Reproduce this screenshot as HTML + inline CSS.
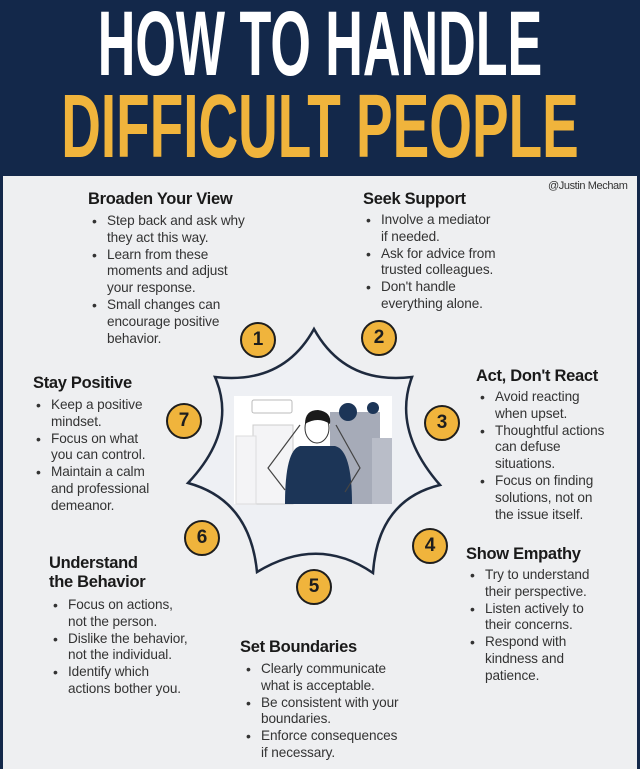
<!DOCTYPE html>
<html><head><meta charset="utf-8"><style>
*{margin:0;padding:0;box-sizing:border-box}
body{width:640px;height:769px;background:#13284a;position:relative;overflow:hidden;font-family:"Liberation Sans",sans-serif;color:#222}
.panel{position:absolute;left:3px;top:176px;width:634px;height:593px;background:#eeeff1}
.t{position:absolute;left:320px;font-weight:bold;white-space:nowrap;transform-origin:center top}
.h{position:absolute;font-weight:bold;font-size:16.5px;color:#1a1a1a;line-height:19px;white-space:nowrap;letter-spacing:-0.3px}
ul{position:absolute;list-style:none;font-size:13.6px;line-height:16.8px;color:#333;letter-spacing:-0.1px}
li{position:relative;padding-left:15px}
li:before{content:"•";position:absolute;left:0;top:0;font-size:14px}
.c{position:absolute;width:36px;height:36px;border-radius:50%;background:#f0b43c;border:2.5px solid #1e1e1e;font-weight:bold;font-size:19px;text-align:center;line-height:31px;color:#1e1e1e}
</style></head><body>
<div class="t" style="top:0;font-size:92px;line-height:88px;color:#fff;transform:translateX(-50%) scaleX(0.566)">HOW TO HANDLE</div>
<div class="t" style="top:83px;font-size:90px;line-height:88px;color:#f0b43c;transform:translateX(-50%) scaleX(0.61)">DIFFICULT PEOPLE</div>
<div class="panel"></div>
<div style="position:absolute;left:548px;top:180px;font-size:11px;color:#333;letter-spacing:-0.4px">@Justin Mecham</div>

<svg style="position:absolute;left:0;top:0" width="640" height="769">
<path d="M314,329 Q345,385 412,377 Q392,430 440,485 Q378,500 373,573 Q318,535 257,572 Q250,500 188,483 Q238,430 215,377 Q283,385 314,329 Z" fill="#eef0f4" stroke="#1e2a3e" stroke-width="2.5"/>
<rect x="234" y="396" width="158" height="108" fill="#fff"/>
<rect x="330" y="412" width="50" height="92" fill="#a6abb8"/>
<rect x="372" y="438" width="20" height="66" fill="#b9bdc8"/>
<rect x="253" y="425" width="40" height="79" fill="#f4f4f6" stroke="#ccc"/>
<rect x="236" y="436" width="20" height="68" fill="#f4f4f6" stroke="#ddd"/>
<rect x="252" y="400" width="40" height="13" rx="2" fill="#fff" stroke="#bbb"/>
<circle cx="348" cy="412" r="9" fill="#1c3557"/><circle cx="373" cy="408" r="6" fill="#1c3557"/>
<path d="M285,504 Q285,450 300,446 L335,446 Q352,450 352,504 Z" fill="#1c3557"/>
<ellipse cx="317" cy="428" rx="12" ry="15" fill="#fff" stroke="#333"/>
<path d="M305,424 Q305,410 318,410 Q332,412 330,424 Q318,416 305,424Z" fill="#1a1a1a"/>
<path d="M300,425 L268,468 L285,490 M336,425 L360,468 L345,492" fill="none" stroke="#444" stroke-width="1.2"/>
</svg>

<div class="c" style="left:240px;top:322px">1</div>
<div class="c" style="left:361px;top:320px">2</div>
<div class="c" style="left:424px;top:405px">3</div>
<div class="c" style="left:412px;top:528px">4</div>
<div class="c" style="left:296px;top:569px">5</div>
<div class="c" style="left:184px;top:520px">6</div>
<div class="c" style="left:166px;top:403px">7</div>

<div class="h" style="left:88px;top:190px">Broaden Your View</div>
<ul style="left:92px;top:213px"><li>Step back and ask why<br>they act this way.</li><li>Learn from these<br>moments and adjust<br>your response.</li><li>Small changes can<br>encourage positive<br>behavior.</li></ul>

<div class="h" style="left:363px;top:190px">Seek Support</div>
<ul style="left:366px;top:212px"><li>Involve a mediator<br>if needed.</li><li>Ask for advice from<br>trusted colleagues.</li><li>Don't handle<br>everything alone.</li></ul>

<div class="h" style="left:33px;top:374px">Stay Positive</div>
<ul style="left:36px;top:397px"><li>Keep a positive<br>mindset.</li><li>Focus on what<br>you can control.</li><li>Maintain a calm<br>and professional<br>demeanor.</li></ul>

<div class="h" style="left:476px;top:367px">Act, Don't React</div>
<ul style="left:480px;top:389px"><li>Avoid reacting<br>when upset.</li><li>Thoughtful actions<br>can defuse<br>situations.</li><li>Focus on finding<br>solutions, not on<br>the issue itself.</li></ul>

<div class="h" style="left:49px;top:554px">Understand<br>the Behavior</div>
<ul style="left:53px;top:597px"><li>Focus on actions,<br>not the person.</li><li>Dislike the behavior,<br>not the individual.</li><li>Identify which<br>actions bother you.</li></ul>

<div class="h" style="left:466px;top:545px">Show Empathy</div>
<ul style="left:470px;top:567px"><li>Try to understand<br>their perspective.</li><li>Listen actively to<br>their concerns.</li><li>Respond with<br>kindness and<br>patience.</li></ul>

<div class="h" style="left:240px;top:638px">Set Boundaries</div>
<ul style="left:246px;top:661px"><li>Clearly communicate<br>what is acceptable.</li><li>Be consistent with your<br>boundaries.</li><li>Enforce consequences<br>if necessary.</li></ul>
</body></html>
